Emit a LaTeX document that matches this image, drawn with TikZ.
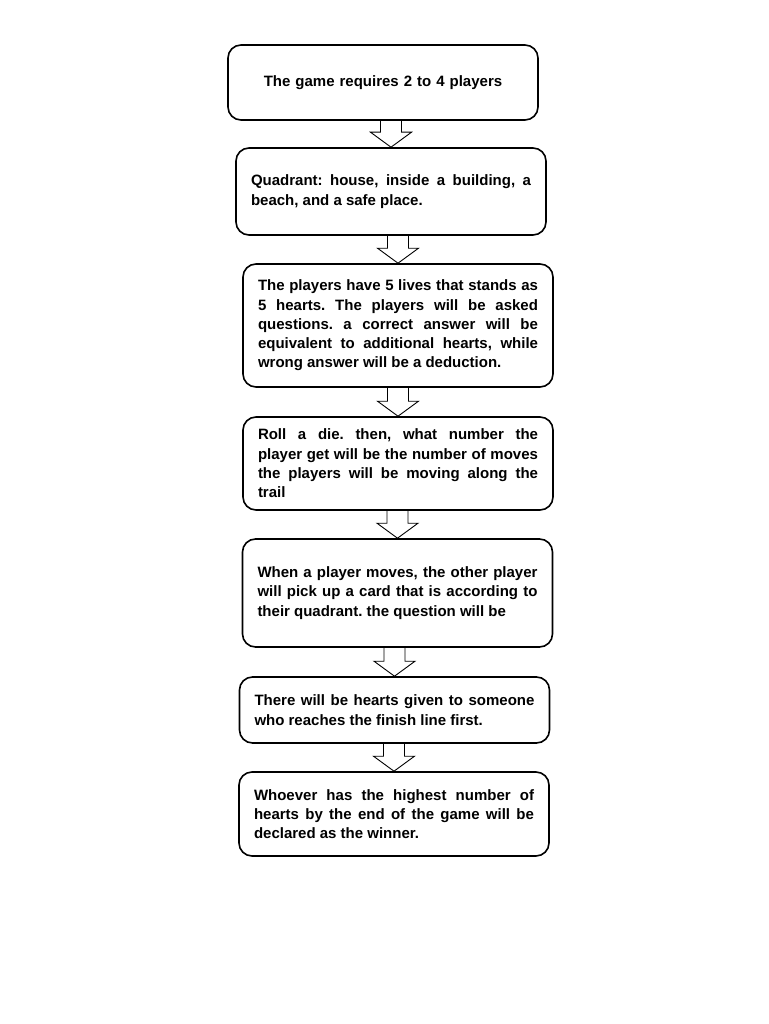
\documentclass[tikz,border=0pt]{standalone}
\usepackage{fontspec}
\setmainfont{Liberation Sans}
\usetikzlibrary{calc}

\newcommand{\stepfont}{\bfseries\fontsize{15}{19.3}\selectfont\frenchspacing
  \hyphenpenalty=10000 \emergencystretch=3em\relax}

\tikzset{
  stepbox/.style={draw, line width=1.6pt, rounded corners=13pt, minimum width=310pt,
    text width=280pt, align=justify, inner sep=0pt, font=\stepfont},
  blockarrow/.style={draw, line width=0.9pt},
}

\begin{document}
\begin{tikzpicture}[x=1pt, y=-1pt]
  \fill[white] (0,0) rectangle (768,1024);

  % the steps
  \node[stepbox, minimum height=75pt, align=center] (players) at (383,82.5) {The game requires 2 to 4 players};
  \node[stepbox, minimum height=87pt] (quadrant) at (391,191.5) {Quadrant: house, inside a building, a\linebreak beach, and a safe place.};
  \node[stepbox, minimum height=123pt] (lives) at (398,325.5) {The players have 5 lives that stands as\linebreak 5 hearts. The players will be asked\linebreak questions. a correct answer will be\linebreak equivalent to additional hearts, while\linebreak wrong answer will be a deduction.};
  \node[stepbox, minimum height=93pt] (roll) at (398,463.5) {Roll a die. then, what number the\linebreak player get will be the number of moves\linebreak the players will be moving along the\linebreak trail};
  \node[stepbox, minimum height=108pt] (move) at (397.5,593) {When a player moves, the other player\linebreak will pick up a card that is according to\linebreak their quadrant. the question will be};
  \node[stepbox, minimum height=66pt] (finish) at (394.5,710) {There will be hearts given to someone\linebreak who reaches the finish line first.};
  \node[stepbox, minimum height=84pt] (winner) at (394,814) {Whoever has the highest number of\linebreak hearts by the end of the game will be\linebreak declared as the winner.};

  % block arrows between the steps
  \foreach \a/\b in {players/quadrant, quadrant/lives, lives/roll, roll/move, move/finish, finish/winner}
    \draw[blockarrow] ($(\b.north |- \a.south)+(-10.5,0)$) -- ($(\b.north)+(-10.5,-15)$) -- ++(-10,0)
      -- (\b.north) -- ++(20.5,-15) -- ++(-10,0) -- ($(\b.north |- \a.south)+(10.5,0)$);
\end{tikzpicture}
\end{document}
